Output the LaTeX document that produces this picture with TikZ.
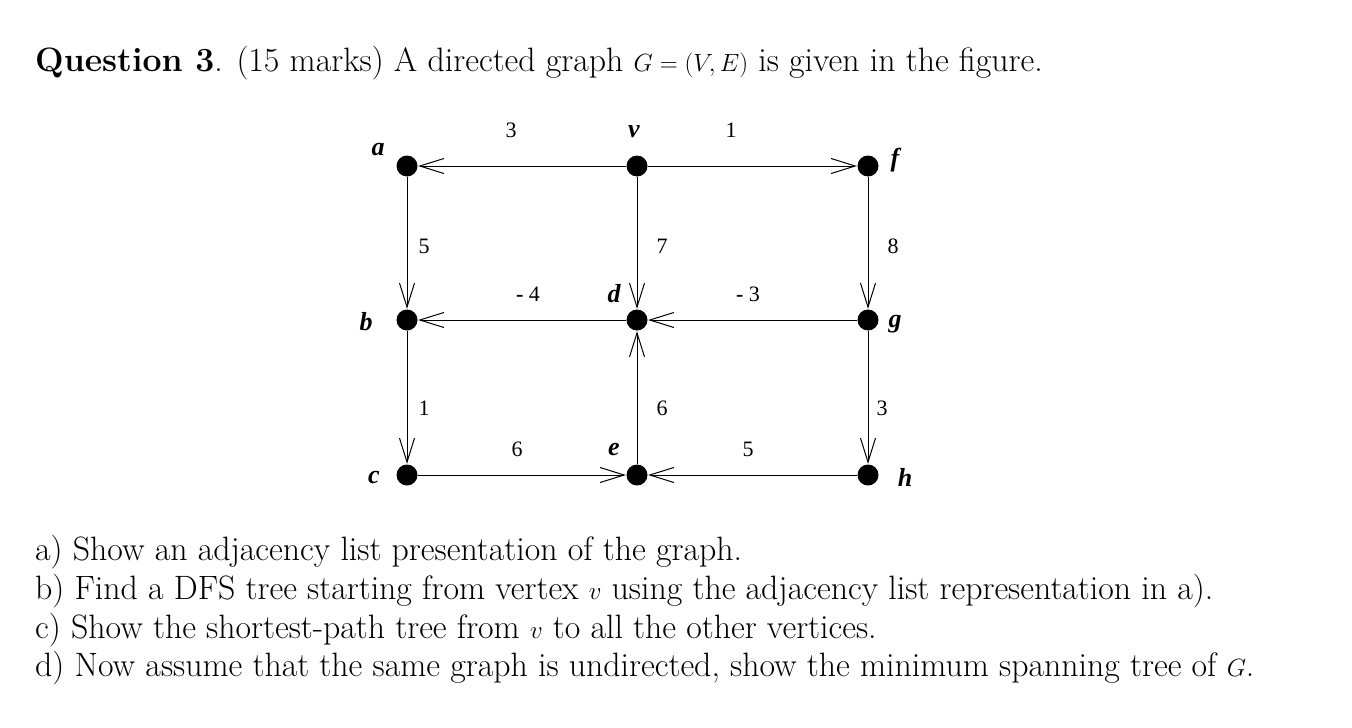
\documentclass[tikz,border=0pt]{standalone}
\usepackage{fontspec}
\newfontfamily\tms{Liberation Serif}
\usetikzlibrary{arrows.meta}
\begin{document}
\begin{tikzpicture}[x=1pt,y=-1pt,
  vert/.style={circle,fill=black,inner sep=0pt,minimum size=21pt},
  edge/.style={line width=1pt,-{Straight Barb[length=24pt,width=15pt,line width=1pt]},shorten >=0.5pt},
  vl/.style={font=\tms\fontsize{26}{30}\selectfont\bfseries\itshape},
  el/.style={font=\tms\fontsize{22}{26}\selectfont},
  txt/.style={anchor=base west,inner sep=0pt,font=\fontsize{33.8}{40}\selectfont}]
\useasboundingbox[fill=white] (0,0) rectangle (1352,728);
\node[vert] (a) at (407,166) {};
\node[vert] (v) at (637,166) {};
\node[vert] (f) at (868,166) {};
\node[vert] (b) at (407,320) {};
\node[vert] (d) at (637,320) {};
\node[vert] (g) at (868,320) {};
\node[vert] (c) at (407,475) {};
\node[vert] (e) at (637,475) {};
\node[vert] (h) at (868,475) {};
\draw[edge] (v) -- (a);
\draw[edge] (v) -- (f);
\draw[edge] (a) -- (b);
\draw[edge] (v) -- (d);
\draw[edge] (f) -- (g);
\draw[edge] (d) -- (b);
\draw[edge] (g) -- (d);
\draw[edge] (e) -- (d);
\draw[edge] (b) -- (c);
\draw[edge] (g) -- (h);
\draw[edge] (c) -- (e);
\draw[edge] (h) -- (e);
\node[vl] (la) at (378,150) {a};
\node[vl] (lv) at (634,132) {v};
\node[vl] (lf) at (895,160) {f};
\node[vl] (lb) at (366,322) {b};
\node[vl] (ld) at (614,294) {d};
\node[vl] (lg) at (895,324) {g};
\node[vl] (lc) at (374,477) {c};
\node[vl] (le) at (614,449) {e};
\node[vl] (lh) at (905,477) {h};
\node[el] (w1) at (511,130) {3};
\node[el] (w2) at (731,130) {1};
\node[el] (w3) at (424,246) {5};
\node[el] (w4) at (662,246) {7};
\node[el] (w5) at (893,246) {8};
\node[el] (w6) at (528,294) {\textbf{-} 4};
\node[el] (w7) at (748,294) {\textbf{-} 3};
\node[el] (w8) at (424,408) {1};
\node[el] (w9) at (662,408) {6};
\node[el] (w10) at (882,408) {3};
\node[el] (w11) at (517,449) {6};
\node[el] (w12) at (748,449) {5};
\node[txt] (t0) at (35,71) {\textbf{Question 3}. (15 marks) A directed graph $G=(V,E)$ is given in the figure.};
\node[txt] (t1) at (35,560) {a) Show an adjacency list presentation of the graph.};
\node[txt] (t2) at (35,599) {b) Find a DFS tree starting from vertex $v$ using the adjacency list representation in a).};
\node[txt] (t3) at (35,638) {c) Show the shortest-path tree from $v$ to all the other vertices.};
\node[txt] (t4) at (35,676) {d) Now assume that the same graph is undirected, show the minimum spanning tree of $G$.};
\end{tikzpicture}
\end{document}
